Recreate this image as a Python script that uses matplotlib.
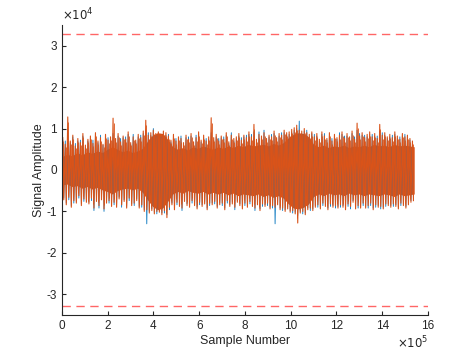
import numpy as np
import matplotlib
matplotlib.use('Agg')
from matplotlib import pyplot as plt
from matplotlib.ticker import FuncFormatter

plt.rcParams['font.family'] = ['Liberation Sans', 'DejaVu Sans']

# waveform peaks, in units of 1e4, one per 11000 samples
AMP = 1e4
BLOCK = 11000
orange_hi = [0.78, 0.62, 1.28, 0.70, 0.84, 0.58, 0.76, 0.66, 0.88, 0.60,
             0.74, 0.82, 0.64, 0.90, 0.70, 0.78, 0.62, 0.86, 0.72, 0.80,
             1.25, 0.76, 0.88, 0.68, 0.82, 0.74, 0.92, 0.66, 0.80, 0.72,
             0.86, 0.78, 0.94, 1.20, 0.84, 0.90, 0.96, 0.88, 0.92, 0.86,
             0.94, 0.90, 0.82, 0.72, 0.86, 0.70, 0.80, 0.76, 0.66, 0.84,
             0.74, 0.88, 0.68, 0.78, 0.92, 0.72, 0.84, 0.70, 0.80, 1.26,
             0.78, 0.86, 0.70, 0.82, 0.74, 0.90, 0.68, 0.84, 0.76, 0.80,
             0.88, 0.72, 0.84, 0.78, 0.92, 0.80, 1.10, 0.74, 0.86, 0.82,
             0.90, 0.76, 0.84, 0.80, 0.94, 0.78, 0.88, 0.84, 0.96, 0.90,
             0.92, 0.98, 1.02, 1.08, 0.96, 0.94, 1.00, 0.90, 0.86, 0.92,
             0.80, 0.88, 0.74, 0.92, 0.82, 0.76, 0.90, 0.70, 0.86, 0.78,
             0.84, 0.92, 0.76, 0.88, 0.80, 0.94, 0.74, 1.13, 0.82, 0.90,
             0.78, 0.86, 0.92, 0.80, 0.88, 0.76, 1.10, 0.84, 0.90, 0.80,
             0.86, 0.78, 0.92, 0.82, 0.74, 0.88, 0.80, 0.84, 0.76, 0.70]
orange_lo = [-0.72, -0.84, -0.66, -0.90, -0.74, -0.80, -0.62, -0.86, -0.70, -0.78,
             -0.82, -0.68, -0.92, -0.76, -0.86, -0.72, -0.94, -0.80, -0.74, -0.88,
             -0.78, -0.90, -0.70, -0.84, -0.76, -0.92, -0.68, -0.86, -0.80, -0.74,
             -0.92, -0.84, -1.00, -0.96, -1.04, -0.98, -1.06, -1.00, -1.02, -1.08,
             -0.98, -1.15, -0.90, -0.84, -0.96, -0.78, -0.88, -0.92, -0.76, -0.86,
             -0.90, -0.74, -0.86, -0.94, -0.78, -0.88, -0.82, -0.96, -0.80, -0.84,
             -0.76, -0.92, -0.84, -0.80, -0.96, -0.74, -0.88, -0.82, -0.90, -0.78,
             -0.86, -0.94, -0.80, -0.90, -0.76, -0.88, -0.92, -0.84, -0.98, -0.82,
             -0.88, -0.80, -0.94, -0.86, -0.90, -0.84, -0.96, -0.92, -1.00, -0.94,
             -1.02, -0.98, -1.06, -1.28, -1.04, -1.00, -1.08, -0.96, -0.92, -0.98,
             -0.90, -0.84, -0.94, -0.80, -0.88, -0.96, -0.82, -0.90, -0.86, -0.92,
             -0.84, -0.90, -0.96, -0.82, -0.88, -0.78, -0.94, -0.86, -0.92, -0.80,
             -0.92, -0.86, -0.80, -0.96, -0.84, -0.90, -0.88, -0.94, -0.82, -0.86,
             -0.90, -0.82, -0.88, -0.94, -0.80, -0.86, -0.92, -0.84, -0.78, -0.74]
blue_hi = [0.72, 0.70, 0.90, 0.66, 0.80, 0.64, 0.70, 0.72, 0.82, 0.56,
           0.70, 0.76, 0.72, 0.84, 0.66, 0.84, 0.60, 0.80, 0.78, 0.74,
           0.88, 0.70, 0.82, 0.76, 0.78, 0.80, 0.86, 0.62, 0.86, 0.68,
           0.80, 0.84, 0.88, 0.96, 0.90, 0.84, 1.00, 0.82, 0.86, 0.80,
           0.88, 0.84, 0.86, 0.68, 0.80, 0.76, 0.74, 0.82, 0.62, 0.78,
           0.80, 0.82, 0.64, 0.84, 0.86, 0.68, 0.78, 0.76, 0.74, 0.90,
           0.72, 0.80, 0.76, 0.78, 0.80, 0.84, 0.64, 0.90, 0.70, 0.76,
           0.82, 0.78, 0.80, 0.84, 0.86, 0.86, 0.92, 0.70, 0.92, 0.76,
           0.96, 0.72, 0.80, 0.86, 0.88, 0.74, 0.82, 0.90, 0.90, 0.84,
           0.86, 0.92, 0.96, 1.00, 1.18, 0.88, 0.94, 0.96, 0.80, 0.88,
           0.86, 0.82, 0.70, 0.86, 0.88, 0.72, 0.84, 0.76, 0.80, 0.74,
           0.90, 0.86, 0.82, 0.82, 0.76, 0.88, 0.80, 0.96, 0.88, 0.84,
           0.84, 0.80, 0.86, 0.86, 0.82, 0.82, 0.94, 0.90, 0.84, 0.76,
           0.80, 0.84, 0.86, 0.76, 0.80, 0.82, 0.86, 0.78, 0.72, 0.66]
blue_lo = [-0.68, -0.80, -0.72, -0.86, -0.80, -0.76, -0.68, -0.82, -0.76, -0.74,
           -0.78, -0.74, -0.98, -0.72, -0.92, -0.68, -1.00, -0.76, -0.80, -0.84,
           -0.84, -0.86, -0.66, -0.90, -0.72, -0.88, -0.74, -0.82, -0.86, -0.70,
           -0.88, -0.90, -0.96, -1.30, -1.00, -0.94, -1.02, -1.06, -0.98, -1.04,
           -1.04, -1.08, -0.96, -0.80, -0.92, -0.84, -0.84, -0.98, -0.72, -0.82,
           -0.86, -0.80, -0.82, -0.90, -0.84, -0.84, -0.78, -0.92, -0.86, -0.80,
           -0.82, -0.88, -0.80, -0.86, -0.92, -0.80, -0.84, -0.78, -0.96, -0.74,
           -0.82, -0.90, -0.86, -0.86, -0.82, -0.84, -0.98, -0.80, -0.94, -0.88,
           -0.84, -0.86, -0.90, -0.92, -1.30, -0.80, -0.92, -0.98, -0.96, -0.90,
           -0.98, -1.04, -1.02, -1.10, -1.00, -1.06, -1.04, -0.92, -0.98, -0.94,
           -0.86, -0.90, -0.90, -0.86, -0.84, -0.92, -0.88, -0.86, -0.92, -0.88,
           -0.90, -0.86, -0.92, -0.88, -0.94, -0.74, -0.90, -0.92, -0.88, -0.86,
           -0.88, -0.92, -0.86, -0.92, -0.90, -0.86, -0.94, -0.90, -0.88, -0.82,
           -0.86, -0.88, -0.84, -0.90, -0.86, -0.82, -0.88, -0.80, -0.74, -0.70]

# dense (solid) part of the orange channel, one value per 22000 samples
CORE_STEP = 22000
core_hi = [0.32, 0.38, 0.34, 0.42, 0.36, 0.44, 0.40, 0.46, 0.42, 0.50,
           0.56, 0.50, 0.44, 0.48, 0.42, 0.46, 0.52, 0.70, 0.84, 0.90,
           0.88, 0.74, 0.56, 0.50, 0.54, 0.48, 0.56, 0.52, 0.58, 0.54,
           0.50, 0.56, 0.52, 0.58, 0.54, 0.60, 0.56, 0.62, 0.58, 0.60,
           0.62, 0.58, 0.64, 0.60, 0.66, 0.78, 0.86, 0.90, 0.88, 0.80,
           0.62, 0.56, 0.60, 0.54, 0.58, 0.56, 0.60, 0.54, 0.58, 0.56,
           0.60, 0.56, 0.62, 0.58, 0.60, 0.56, 0.62, 0.58, 0.60, 0.58, 0.56]
core_lo = [-0.36, -0.34, -0.40, -0.38, -0.44, -0.40, -0.46, -0.42, -0.48, -0.52,
           -0.58, -0.50, -0.46, -0.44, -0.48, -0.44, -0.54, -0.72, -0.88, -0.96,
           -0.92, -0.76, -0.58, -0.52, -0.56, -0.50, -0.54, -0.56, -0.52, -0.58,
           -0.54, -0.58, -0.54, -0.60, -0.56, -0.62, -0.58, -0.60, -0.62, -0.58,
           -0.64, -0.60, -0.66, -0.62, -0.68, -0.82, -0.92, -0.94, -0.90, -0.82,
           -0.64, -0.58, -0.62, -0.56, -0.60, -0.58, -0.62, -0.56, -0.60, -0.58,
           -0.62, -0.58, -0.60, -0.62, -0.58, -0.60, -0.64, -0.58, -0.62, -0.60, -0.58]

CLIP = 32767
BLUE = '#0072BD'
ORANGE = '#D95319'


def zigzag(hi, lo):
    '''line through the block peaks, alternating max and min'''
    n = len(hi)
    start = np.arange(n) * BLOCK
    x = np.empty(2 * n)
    y = np.empty(2 * n)
    x[0::2] = start + 0.3 * BLOCK
    x[1::2] = start + 0.7 * BLOCK
    y[0::2] = np.array(hi) * AMP
    y[1::2] = np.array(lo) * AMP
    return x, y


fig = plt.figure(figsize=(4.74, 3.55), dpi=100)
ax = fig.add_axes([0.1308, 0.1127, 0.772, 0.817])

centers = (np.arange(len(orange_hi)) + 0.5) * BLOCK
bx, by = zigzag(blue_hi, blue_lo)
ox, oy = zigzag(orange_hi, orange_lo)
ax.plot(bx, by, color=BLUE, lw=0.6)
ax.plot(ox, oy, color=ORANGE, lw=0.8)
ax.vlines(centers, np.array(orange_lo) * AMP * 0.9, np.array(orange_hi) * AMP * 0.9,
          color=ORANGE, lw=0.6)
cx = np.arange(len(core_hi)) * CORE_STEP
ax.fill_between(cx, np.array(core_lo) * AMP, np.array(core_hi) * AMP,
                color=ORANGE, lw=0)

ax.axhline(CLIP, color='red', lw=1, ls=(0, (6, 4)), alpha=0.6)
ax.axhline(-CLIP, color='red', lw=1, ls=(0, (6, 4)), alpha=0.6)

ax.set_xlim(0, 16e5)
ax.set_ylim(-3.5e4, 3.5e4)
ax.set_xticks(np.arange(0, 17e5, 2e5))
ax.set_yticks(np.arange(-3e4, 4e4, 1e4))
ax.xaxis.set_major_formatter(FuncFormatter(lambda v, p: '%g' % (v / 1e5)))
ax.yaxis.set_major_formatter(FuncFormatter(lambda v, p: '%g' % (v / 1e4)))

dark = '#262626'
for s in ['top', 'right']:
    ax.spines[s].set_visible(False)
for s in ['left', 'bottom']:
    ax.spines[s].set_color(dark)
    ax.spines[s].set_linewidth(0.8)
ax.tick_params(direction='in', length=3, width=0.8, colors=dark, labelsize=8.5)

ax.set_xlabel('Sample Number', fontsize=9, color=dark, labelpad=2)
ax.set_ylabel('Signal Amplitude', fontsize=9, color=dark, labelpad=1)
ax.text(0, 1.005, r'$\times10^4$', transform=ax.transAxes, fontsize=8.5,
        color=dark, ha='left', va='bottom')
ax.text(1, -0.115, r'$\times10^5$', transform=ax.transAxes, fontsize=8.5,
        color=dark, ha='right', va='baseline')

fig.savefig('out.png', dpi=100)
